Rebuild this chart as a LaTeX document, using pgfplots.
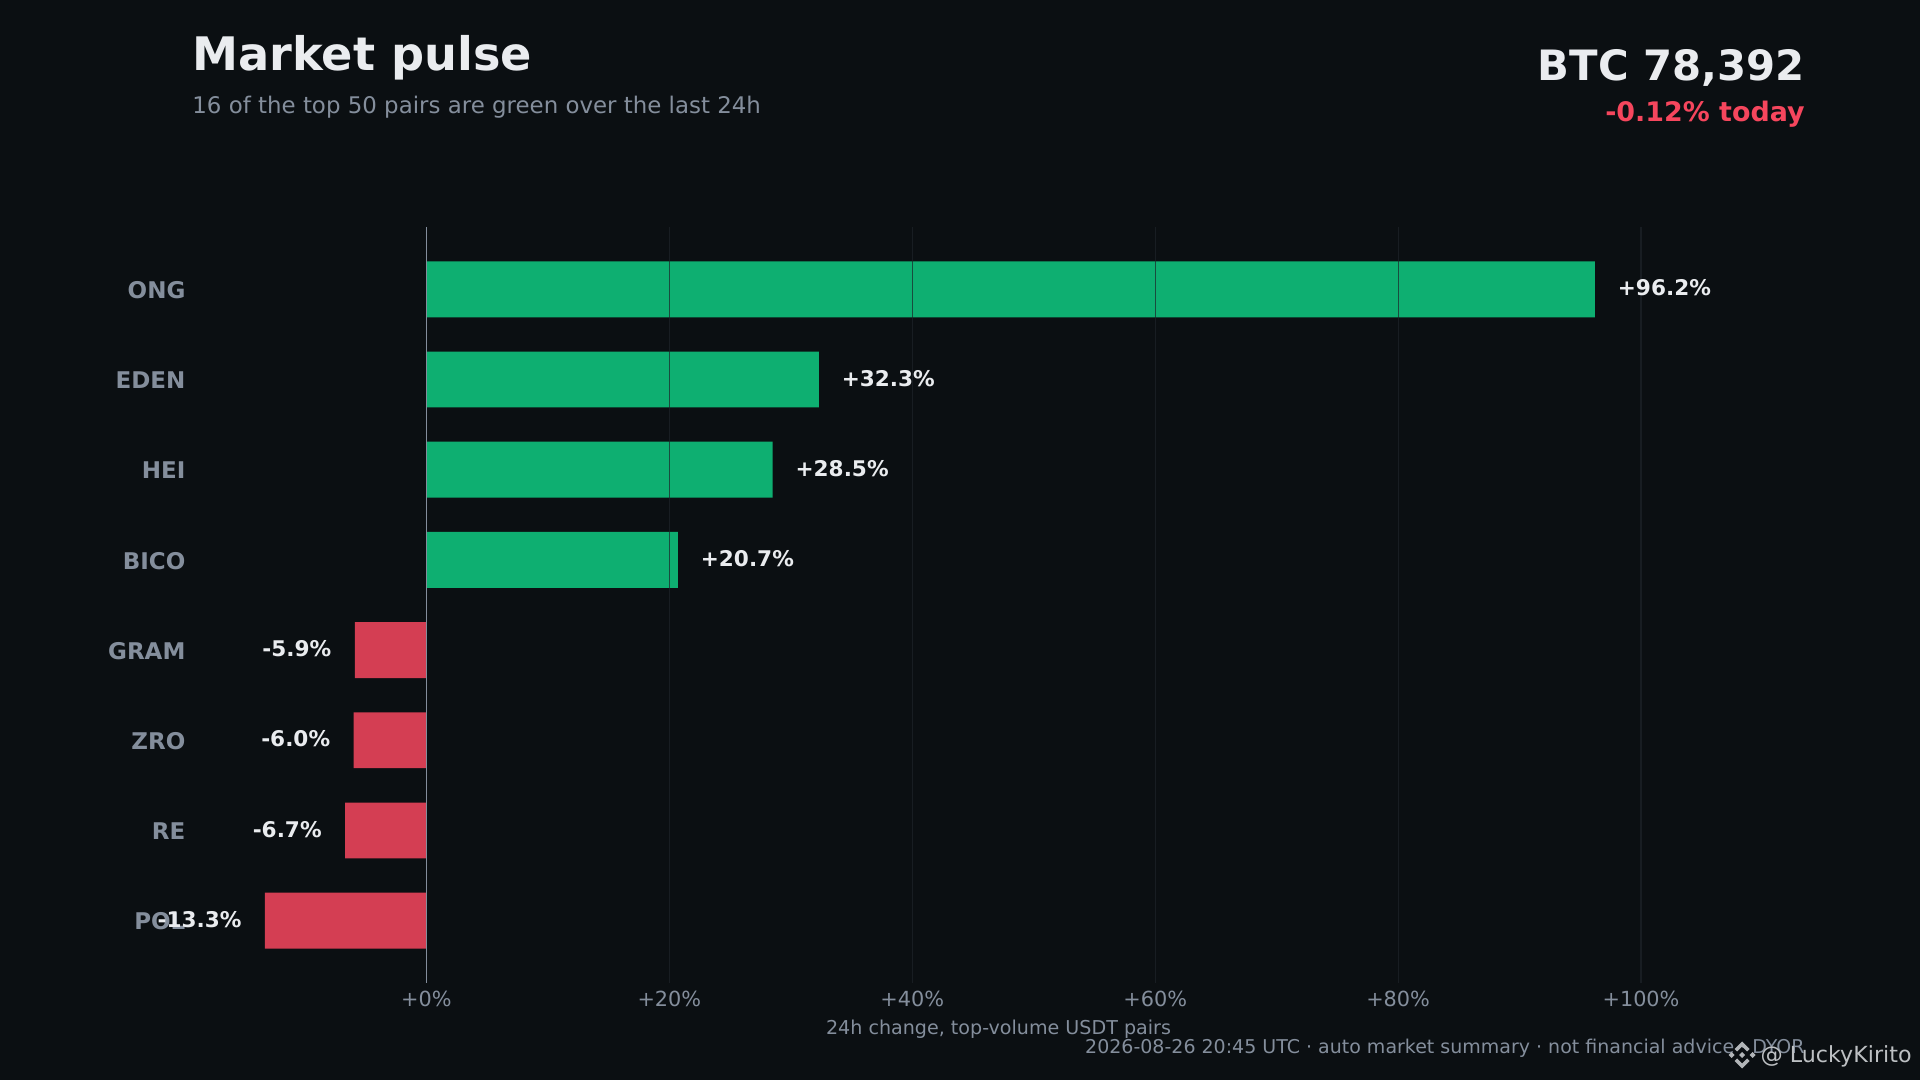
\documentclass[border=0pt]{standalone}
\usepackage{pgfplots}
\pgfplotsset{compat=1.18}
\usepackage{pgfplotstable}
\usepackage{fontspec}
\setmainfont{DejaVu Sans}
\definecolor{bgc}{HTML}{0B0F12}
\definecolor{upc}{HTML}{0EAF71}
\definecolor{downc}{HTML}{D43E53}
\definecolor{redtxt}{HTML}{F6465D}
\definecolor{titlec}{HTML}{EAECEF}
\definecolor{mutedc}{HTML}{848E9C}
\definecolor{gridc}{HTML}{1E2329}

% one picture pixel is 0.5pt
\newcommand{\fs}[1]{\fontsize{#1}{#1}\selectfont}

\pgfplotstableread{
idx val
0 96.2
1 32.3
2 28.5
3 20.7
}\greenrows
\pgfplotstableread{
idx val
4 -5.9
5 -6.0
6 -6.7
7 -13.3
}\redrows

\begin{document}
\begin{tikzpicture}[x=0.5pt,y=0.5pt]
\fill[bgc] (0,0) rectangle (1920,1080);
\begin{axis}[
    at={(96pt,48.5pt)}, anchor=south west,
    scale only axis,
    width=806.5pt, height=378pt,
    xmin=-19.3, xmax=113.5,
    ymin=-0.691, ymax=7.691,
    y dir=reverse,
    axis on top,
    axis line style={draw=none},
    tick style={draw=none},
    xtick={20,40,60,80,100},
    xticklabels={+20\%,+40\%,+60\%,+80\%,+100\%},
    extra x ticks={0},
    extra x tick labels={+0\%},
    extra x tick style={grid=major, grid style={mutedc, opacity=1, line width=0.9pt},
        tick style={draw=none}},
    ytick={0,1,2,3,4,5,6,7},
    yticklabels={ONG,EDEN,HEI,BICO,GRAM,ZRO,RE,POL},
    xmajorgrids,
    grid style={gridc, opacity=0.7, line width=0.6pt},
    xticklabel style={font=\fs{10.4}, text=mutedc, inner sep=0pt, yshift=-4pt},
    yticklabel style={font=\fs{11.5}\bfseries, text=mutedc, inner sep=0pt, xshift=-3.1pt, yshift=-0.4pt},
    xlabel={24h change, top-volume USDT pairs},
    xlabel style={font=\fs{9.55}, text=mutedc, inner sep=0pt, yshift=-6pt},
    point meta=x,
    clip=false,
]
\addplot[xbar, bar shift=0pt, bar width=0.62, fill=upc, draw=none,
    nodes near coords={+\pgfmathprintnumber[fixed,fixed zerofill,precision=1,assume math mode=true]{\pgfplotspointmeta}\%},
    every node near coord/.append style={font=\fs{10.8}\bfseries, text=titlec, inner sep=0pt, anchor=west, xshift=11.3pt, yshift=0.6pt}]
    table[x=val,y=idx] {\greenrows};
\addplot[xbar, bar shift=0pt, bar width=0.62, fill=downc, draw=none,
    nodes near coords={\pgfmathprintnumber[fixed,fixed zerofill,precision=1,assume math mode=true]{\pgfplotspointmeta}\%},
    every node near coord/.append style={font=\fs{10.8}\bfseries, text=titlec, inner sep=0pt, anchor=east, xshift=-11.5pt, yshift=0.6pt}]
    table[x=val,y=idx] {\redrows};
\end{axis}
% header
\node[anchor=base west, inner sep=0pt, text=titlec, font=\fs{23.1}\bfseries] at (192,1009) {Market pulse};
\node[anchor=base west, inner sep=0pt, text=mutedc, font=\fs{11.45}] at (192,966) {16 of the top 50 pairs are green over the last 24h};
\node[anchor=base east, inner sep=0pt, text=titlec, font=\fs{20.9}\bfseries] at (1805,999) {BTC 78,392};
\node[anchor=base east, inner sep=0pt, text=redtxt, font=\fs{13.45}\bfseries] at (1805,958) {-0.12\% today};
% footer
\node[anchor=base east, inner sep=0pt, text=mutedc, font=\fs{9.5}] at (1805,26) {2026-08-26 20:45 UTC · auto market summary · not financial advice · DYOR};
% watermark logo
\begin{scope}[shift={(1742,25)}, titlec!75!bgc]
\fill (0,13.5) -- (7.5,6) -- (5,3.5) -- (0,8.5) -- (-5,3.5) -- (-7.5,6) -- cycle;
\fill (0,-13.5) -- (7.5,-6) -- (5,-3.5) -- (0,-8.5) -- (-5,-3.5) -- (-7.5,-6) -- cycle;
\fill (0,3) -- (3,0) -- (0,-3) -- (-3,0) -- cycle;
\fill (-10.5,3) -- (-7.5,0) -- (-10.5,-3) -- (-13.5,0) -- cycle;
\fill (10.5,3) -- (7.5,0) -- (10.5,-3) -- (13.5,0) -- cycle;
\end{scope}
\node[anchor=base east, inner sep=0pt, text=titlec!80!bgc, font=\fs{11.1}] at (1912,17) {@ LuckyKirito};
\end{tikzpicture}
\end{document}
